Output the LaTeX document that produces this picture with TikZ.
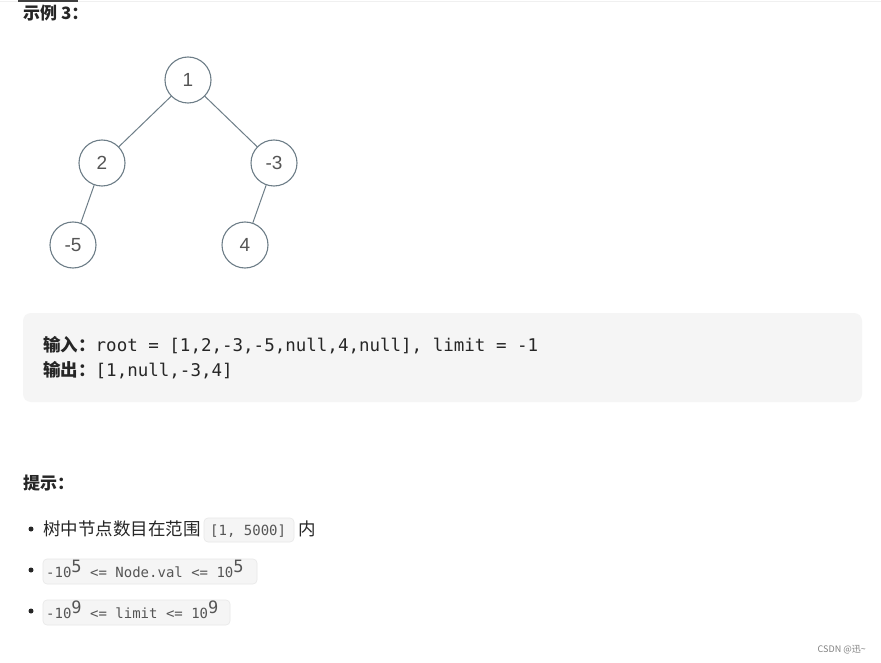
\documentclass[tikz,border=0pt]{standalone}
\usepackage{fontspec}
\setmainfont{Noto Sans CJK SC}
\setmonofont{DejaVu Sans Mono}
\newfontfamily\cjk{Noto Sans CJK SC}
\newfontfamily\lat{Liberation Sans}
\begin{document}
\begin{tikzpicture}[x=1pt,y=-1pt,
  tn/.style={circle,draw=edgec,line width=1.1pt,minimum size=46pt,inner sep=0pt,text=numc,font=\lat\fontsize{19}{19}\selectfont},
  ed/.style={draw=edgec,line width=1pt},
  codebg/.style={fill=codec,draw=codeb,rounded corners=4pt,line width=0.6pt},
  txt/.style={anchor=base west,inner sep=0pt,text=txtc,font=\fontsize{17.5}{17.5}\selectfont},
  mono/.style={anchor=base west,inner sep=0pt,text=monoc,font=\ttfamily\fontsize{14}{14}\selectfont}]
\definecolor{edgec}{HTML}{6E7E88}
\definecolor{numc}{HTML}{555555}
\definecolor{codec}{HTML}{F5F5F5}
\definecolor{codeb}{HTML}{E8E8E8}
\definecolor{txtc}{HTML}{262626}
\definecolor{monoc}{HTML}{555555}
\useasboundingbox[fill=white] (0,0) rectangle (881,663);
\fill[gray!12] (0,1) rectangle (881,2.5);
\fill[black!75] (18,0) rectangle (78,2.5);
\node[txt,font=\bfseries\fontsize{17}{17}\selectfont] (h) at (23,20) {示例 3：};
\node[tn] (n1) at (188,80) {1};
\node[tn] (n2) at (102,163) {2};
\node[tn] (n3) at (274,163) {-3};
\node[tn] (n5) at (73,245) {-5};
\node[tn] (n4) at (245,245) {4};
\draw[ed] (n1) -- (n2);
\draw[ed] (n1) -- (n3);
\draw[ed] (n2) -- (n5);
\draw[ed] (n3) -- (n4);
\fill[codec,rounded corners=8pt] (23,313) rectangle (862,402);
\node[txt] (in) at (43,351) {\textbf{输入：}\ttfamily\fontsize{17.5}{17.5}\selectfont root = [1,2,-3,-5,null,4,null], limit = -1};
\node[txt] (out) at (43,376) {\textbf{输出：}\ttfamily\fontsize{17.5}{17.5}\selectfont [1,null,-3,4]};
\node[txt,font=\bfseries\fontsize{17}{17}\selectfont] (tip) at (23,489) {提示：};
\foreach \y in {529,570,611} \fill[txtc] (31,\y) circle (2.5);
\node[txt] (b1) at (43,535) {树中节点数目在范围};
\draw[codebg] (204,518) rectangle (294,542);
\node[mono] (c1) at (210,535) {[1, 5000]};
\node[txt] (b1b) at (298,535) {内};
\draw[codebg] (43,559) rectangle (257,584);
\node[mono] (c2) at (46,577) {-10\raisebox{5pt}{\fontsize{17}{17}\selectfont 5} <= Node.val <= 10\raisebox{5pt}{\fontsize{17}{17}\selectfont 5}};
\draw[codebg] (43,600) rectangle (230,625);
\node[mono] (c3) at (46,618) {-10\raisebox{5pt}{\fontsize{17}{17}\selectfont 9} <= limit <= 10\raisebox{5pt}{\fontsize{17}{17}\selectfont 9}};
\node[anchor=base east,inner sep=0pt,text=gray,font=\fontsize{9}{9}\selectfont] (wm) at (866,652) {CSDN @迅\textasciitilde};
\end{tikzpicture}
\end{document}
